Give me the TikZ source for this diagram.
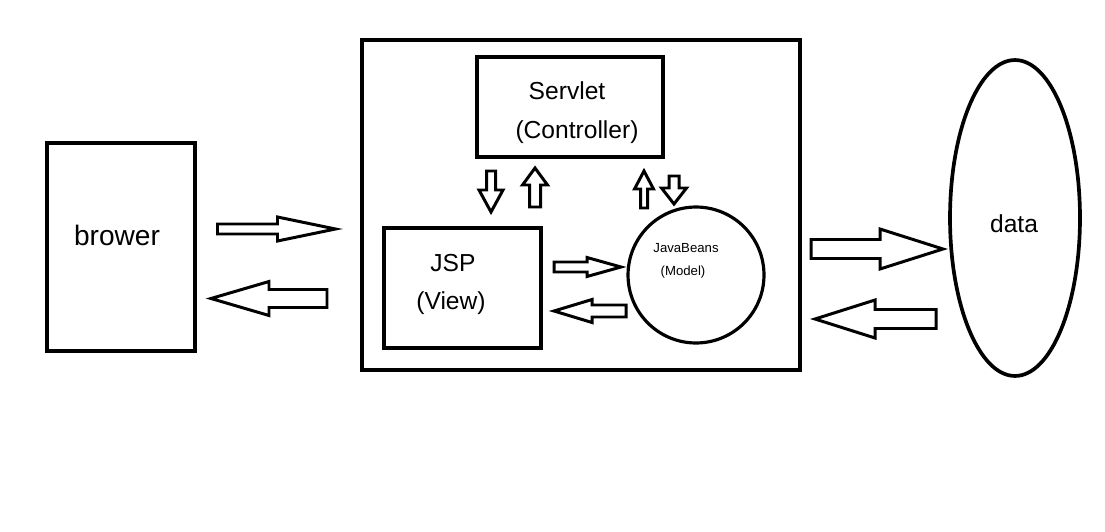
\documentclass[tikz,border=0pt]{standalone}
\usepackage{fontspec}
\setmainfont{Liberation Sans}
\usetikzlibrary{shapes.geometric}

% block arrow: tail point, angle, length, shaft width, head width, head length
\newcommand{\blockarrow}[6]{%
    \draw[blockarr, shift={#1}, rotate=#2]
        (0,{-#4/2}) -- ({#3-#6},{-#4/2}) -- ({#3-#6},{-#5/2}) -- (#3,0)
        -- ({#3-#6},{#5/2}) -- ({#3-#6},{#4/2}) -- (0,{#4/2}) -- cycle;}

\begin{document}
\begin{tikzpicture}[
        x=0.02cm,
        y=-0.02cm,
        every node/.style={font=\fontsize{14}{16}\selectfont},
        box/.style={
            rectangle,
            draw,
            line width=2.3pt,
            inner sep=0pt
        },
        bean/.style={
            circle,
            draw,
            line width=1.8pt,
            minimum size=2.72cm,
            inner sep=0pt
        },
        store/.style={
            ellipse,
            draw,
            line width=2.1pt,
            minimum width=2.6cm,
            minimum height=6.32cm,
            inner sep=0pt
        },
        txt/.style={inner sep=0pt},
        blockarr/.style={draw, line width=1.7pt, line join=miter, fill=white}
    ]
    \useasboundingbox (0,0) rectangle (1105,531);

    % Boxes
    \node[box, minimum width=2.96cm, minimum height=4.16cm] (brower) at (121,247) {};
    \node[box, minimum width=8.76cm, minimum height=6.6cm] (server) at (581,205) {};
    \node[box, minimum width=3.72cm, minimum height=2.0cm] (servlet) at (570,107) {};
    \node[box, minimum width=3.14cm, minimum height=2.4cm] (jsp) at (462.5,288) {};
    \node[bean] (beans) at (696,275) {};
    \node[store] (data) at (1015,218) {};

    % Labels
    \node[txt, font=\fontsize{16}{18}\selectfont] (browertxt) at (117,235) {brower};
    \node[txt] (servlettxt) at (567,91) {Servlet};
    \node[txt] (controllertxt) at (577,132) {(Controller)};
    \node[txt] (jsptxt) at (453,263) {JSP};
    \node[txt] (viewtxt) at (451,303) {(View)};
    \node[txt, font=\fontsize{7.5}{9}\selectfont] (beanstxt) at (686,248) {JavaBeans};
    \node[txt, font=\fontsize{7.5}{9}\selectfont] (modeltxt) at (683,272) {(Model)};
    \node[txt] (datatxt) at (1014,224) {data};

    % brower <-> server
    \blockarrow{(217.5,229)}{0}{118}{10}{24}{58}
    \blockarrow{(327,298.5)}{180}{116}{18}{34}{58}

    % servlet <-> jsp, servlet <-> beans
    \blockarrow{(491,171)}{-90}{41}{9}{24}{22}
    \blockarrow{(535,207)}{90}{39}{11}{25}{17}
    \blockarrow{(644,208)}{90}{37}{7}{19}{18}
    \blockarrow{(674,176)}{-90}{28}{10}{25}{16}

    % jsp <-> beans
    \blockarrow{(554,267)}{0}{67}{10}{19}{34}
    \blockarrow{(626,311)}{180}{72}{12}{23}{38}

    % server <-> data
    \blockarrow{(811,249)}{0}{132}{19}{40}{63}
    \blockarrow{(936,319)}{180}{121}{19}{38}{60}

\end{tikzpicture}
\end{document}
